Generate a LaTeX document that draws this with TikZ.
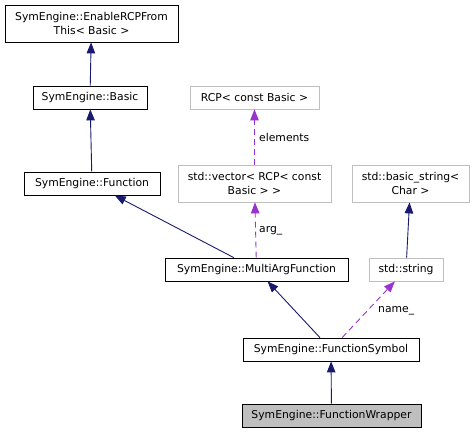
\documentclass[tikz,border=0pt]{standalone}
\usepackage{fontspec}
\setmainfont{DejaVu Sans}
\usetikzlibrary{arrows.meta}
\definecolor{edgeblue}{HTML}{191970}
\definecolor{edgepurple}{HTML}{9A32CD}
\definecolor{extgray}{HTML}{BFBFBF}
\definecolor{hlfill}{HTML}{BFBFBF}
\tikzset{
  cls/.style={draw=black, line width=0.8pt, rectangle, inner sep=0pt, align=center, font=\fontsize{10.8}{14}\selectfont},
  ext/.style={cls, draw=extgray},
  cur/.style={cls, fill=hlfill},
  inh/.style={draw=edgeblue, line width=0.9pt, -{Triangle[length=11pt,width=8.5pt]}},
  use/.style={draw=edgepurple, line width=0.9pt, dash pattern=on 6pt off 4pt, -{Triangle[length=11pt,width=8.5pt]}},
  lbl/.style={font=\fontsize{10.8}{14}\selectfont, inner sep=0pt, anchor=west}
}
\begin{document}
\begin{tikzpicture}[x=1pt,y=-1pt]
\useasboundingbox (0,0) rectangle (474,433);
\node[cls, minimum width=173pt, minimum height=37pt] (erc) at (91.5,23.5) {SymEngine::EnableRCPFrom\\This< Basic >};
\node[cls, minimum width=114pt, minimum height=23pt] (basic) at (90,97.5) {SymEngine::Basic};
\node[cls, minimum width=136pt, minimum height=23pt] (func) at (92,183.5) {SymEngine::Function};
\node[ext, minimum width=129pt, minimum height=23pt] (rcp) at (254.5,97.5) {RCP< const Basic >};
\node[ext, minimum width=153pt, minimum height=37pt] (vec) at (254.5,183.5) {std::vector< RCP< const\\Basic > >};
\node[ext, minimum width=117pt, minimum height=37pt] (bstr) at (410.5,183.5) {std::basic\_string<\\Char >};
\node[cls, minimum width=183pt, minimum height=23pt] (multi) at (256.5,269.5) {SymEngine::MultiArgFunction};
\node[ext, minimum width=74pt, minimum height=23pt] (str) at (406,269.5) {std::string};
\node[cls, minimum width=176pt, minimum height=23pt] (fsym) at (331,349.5) {SymEngine::FunctionSymbol};
\node[cur, minimum width=179pt, minimum height=23pt] (fwrap) at (331.5,415.5) {SymEngine::FunctionWrapper};

\draw[inh] (basic) -- (erc);
\draw[inh] (func) -- (basic);
\draw[inh] (multi) -- (func);
\draw[use] (vec) -- (rcp);
\draw[use] (multi) -- (vec);
\draw[inh] (str) -- (bstr);
\draw[inh] (fsym) -- (multi);
\draw[use] (fsym) -- (str);
\draw[inh] (fwrap) -- (fsym);

\node[lbl] (lelem) at (259,137) {elements};
\node[lbl] (larg) at (259,231) {arg\_};
\node[lbl] (lname) at (378,311) {name\_};
\end{tikzpicture}
\end{document}
